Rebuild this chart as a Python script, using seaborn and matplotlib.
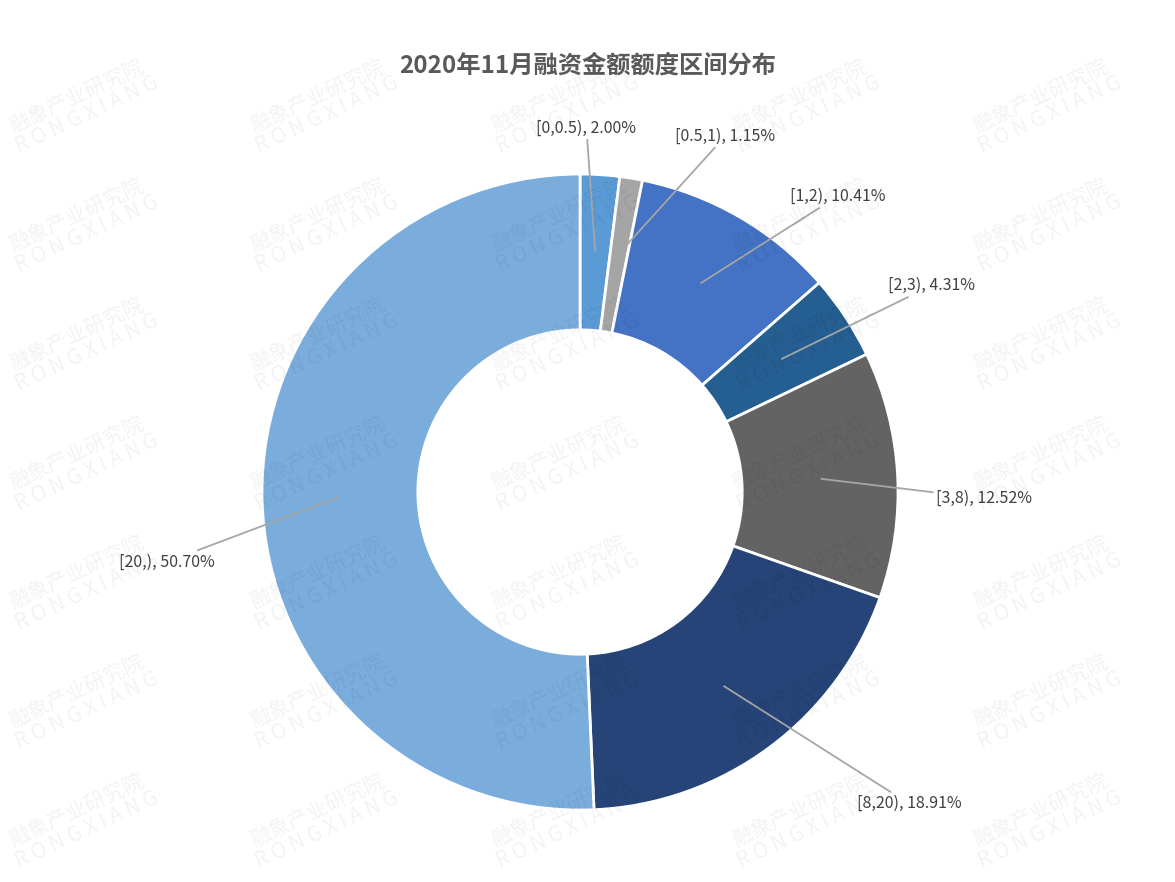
import matplotlib
matplotlib.use('Agg')
import matplotlib.pyplot as plt
import seaborn as sns
import numpy as np

sns.set_theme(style='white')
plt.rcParams['font.family'] = ['Noto Sans CJK SC', 'DejaVu Sans']

# data
categories = ['[0,0.5)', '[0.5,1)', '[1,2)', '[2,3)', '[3,8)', '[8,20)', '[20,)']
shares = [2.00, 1.15, 10.41, 4.31, 12.52, 18.91, 50.70]
colors = ['#5B9BD5', '#A5A5A5', '#4472C4', '#255E91', '#636363', '#264478', '#7BADDC']

# label text positions (data units, radius 1 = outer edge)
label_pos = [(0.02, 1.145), (0.30, 1.12), (0.66, 0.93), (0.97, 0.65),
             (1.12, -0.02), (0.87, -0.98), (-1.15, -0.22)]
label_ha = ['center', 'left', 'left', 'left', 'left', 'left', 'right']

fig = plt.figure(figsize=(11.75, 8.82), dpi=100)

# faint watermark
for wx in np.arange(0.07, 0.9, 0.205):
    for wy in np.arange(0.07, 0.95, 0.135):
        fig.text(wx, wy, '融象产业研究院\nR O N G X I A N G', color='#000000', alpha=0.05,
                 fontsize=15, rotation=25, ha='center', va='center', linespacing=0.9)

ax = fig.add_axes([0.0, 0.0, 1.0, 1.0])

wedges, _ = ax.pie(shares, colors=colors, startangle=90, counterclock=False,
                   radius=1.0, wedgeprops=dict(width=0.49, edgecolor='white', linewidth=2))
ax.set_xlim(-1.824, 1.871)
ax.set_ylim(-1.226, 1.547)
ax.set_aspect('equal')
ax.axis('off')

for w, cat, val, pos, ha in zip(wedges, categories, shares, label_pos, label_ha):
    ang = np.deg2rad((w.theta1 + w.theta2) / 2)
    r = 0.76
    pt = (r * np.cos(ang), r * np.sin(ang))
    ax.annotate(f'{cat}, {val:.2f}%', xy=pt, xytext=pos, ha=ha, va='center',
                fontsize=11.5, color='#404040',
                arrowprops=dict(arrowstyle='-', color='#A6A6A6', lw=1.3, shrinkA=0, shrinkB=0))

fig.text(0.5, 0.926, '2020年11月融资金额额度区间分布', ha='center', va='center',
         fontsize=17.5, fontweight='bold', color='#595959')

fig.savefig('out.png', dpi=100, facecolor='white')
